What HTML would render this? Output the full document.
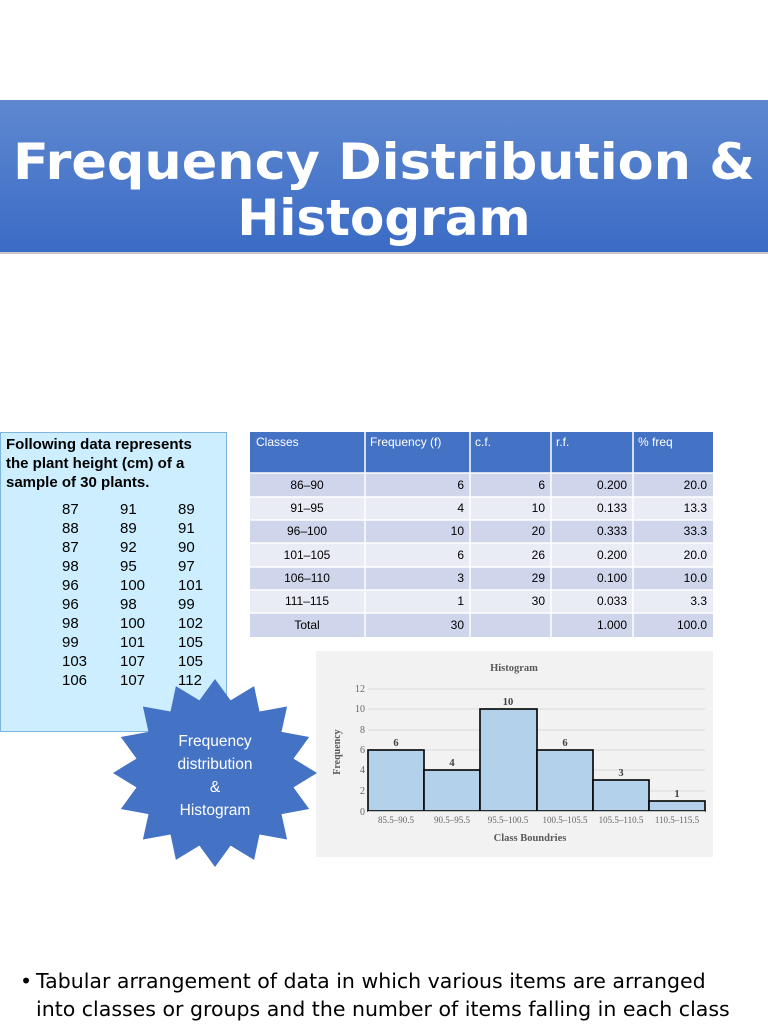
<!DOCTYPE html>
<html><head><meta charset="utf-8"><style>
html,body{margin:0;padding:0;background:#fff;width:768px;height:1024px;overflow:hidden}
svg{display:block}
.s{font-family:"Liberation Sans","DejaVu Sans",sans-serif}
.c{font-family:"DejaVu Sans","Liberation Sans",sans-serif}
.r{font-family:"Liberation Serif",serif}
</style></head><body>
<svg width="768" height="1024" viewBox="0 0 768 1024" xmlns="http://www.w3.org/2000/svg">
<defs><linearGradient id="g" x1="0" y1="0" x2="0" y2="1"><stop offset="0" stop-color="#5f88d0"/><stop offset="1" stop-color="#3a6bc5"/></linearGradient></defs>
<rect x="0" y="100" width="768" height="152" fill="url(#g)"/>
<rect x="0" y="252" width="768" height="2" fill="#c8c8c8"/>
<g class="c" fill="#fff" font-weight="bold" font-size="50" text-anchor="middle">
<text x="384" y="179" textLength="742" lengthAdjust="spacingAndGlyphs">Frequency Distribution &amp;</text>
<text x="384" y="235">Histogram</text></g>

<rect x="0.5" y="432.5" width="226" height="299" fill="#cceeff" stroke="#7fb3e0"/>
<g class="s" font-size="15" font-weight="bold" fill="#000">
<text x="6" y="449">Following data represents</text>
<text x="6" y="468">the plant height (cm) of a</text>
<text x="6" y="487">sample of 30 plants.</text></g>
<g class="s" font-size="15" fill="#000">
<text x="62" y="514">87</text><text x="120" y="514">91</text><text x="178" y="514">89</text>
<text x="62" y="533">88</text><text x="120" y="533">89</text><text x="178" y="533">91</text>
<text x="62" y="552">87</text><text x="120" y="552">92</text><text x="178" y="552">90</text>
<text x="62" y="571">98</text><text x="120" y="571">95</text><text x="178" y="571">97</text>
<text x="62" y="590">96</text><text x="120" y="590">100</text><text x="178" y="590">101</text>
<text x="62" y="609">96</text><text x="120" y="609">98</text><text x="178" y="609">99</text>
<text x="62" y="628">98</text><text x="120" y="628">100</text><text x="178" y="628">102</text>
<text x="62" y="647">99</text><text x="120" y="647">101</text><text x="178" y="647">105</text>
<text x="62" y="666">103</text><text x="120" y="666">107</text><text x="178" y="666">105</text>
<text x="62" y="685">106</text><text x="120" y="685">107</text><text x="178" y="685">112</text></g>

<rect x="250" y="432" width="463" height="41" fill="#4472c4"/>
<rect x="250" y="473" width="463" height="24" fill="#cfd5ea"/>
<rect x="250" y="497" width="463" height="23" fill="#e9ebf5"/>
<rect x="250" y="520" width="463" height="23" fill="#cfd5ea"/>
<rect x="250" y="543" width="463" height="24" fill="#e9ebf5"/>
<rect x="250" y="567" width="463" height="23" fill="#cfd5ea"/>
<rect x="250" y="590" width="463" height="23" fill="#e9ebf5"/>
<rect x="250" y="613" width="463" height="24" fill="#cfd5ea"/>
<g stroke="#fff" stroke-width="1.5">
<line x1="365" y1="432" x2="365" y2="637"/><line x1="470" y1="432" x2="470" y2="637"/>
<line x1="551" y1="432" x2="551" y2="637"/><line x1="633" y1="432" x2="633" y2="637"/>
<line x1="250" y1="473" x2="713" y2="473"/><line x1="250" y1="497" x2="713" y2="497"/>
<line x1="250" y1="520" x2="713" y2="520"/><line x1="250" y1="543" x2="713" y2="543"/>
<line x1="250" y1="567" x2="713" y2="567"/><line x1="250" y1="590" x2="713" y2="590"/>
<line x1="250" y1="613" x2="713" y2="613"/></g>
<g class="s" font-size="12" fill="#fff">
<text x="256" y="446">Classes</text><text x="370" y="446">Frequency (f)</text>
<text x="475" y="446">c.f.</text><text x="556" y="446">r.f.</text><text x="638" y="446">% freq</text></g>
<g class="s" font-size="12" fill="#000">
<g text-anchor="middle">
<text x="307" y="489">86–90</text><text x="307" y="512">91–95</text><text x="307" y="535">96–100</text>
<text x="307" y="559">101–105</text><text x="307" y="582">106–110</text><text x="307" y="605">111–115</text>
<text x="307" y="629">Total</text></g>
<g text-anchor="end">
<text x="464" y="489">6</text><text x="464" y="512">4</text><text x="464" y="535">10</text><text x="464" y="559">6</text><text x="464" y="582">3</text><text x="464" y="605">1</text><text x="464" y="629">30</text>
<text x="545" y="489">6</text><text x="545" y="512">10</text><text x="545" y="535">20</text><text x="545" y="559">26</text><text x="545" y="582">29</text><text x="545" y="605">30</text>
<text x="627" y="489">0.200</text><text x="627" y="512">0.133</text><text x="627" y="535">0.333</text><text x="627" y="559">0.200</text><text x="627" y="582">0.100</text><text x="627" y="605">0.033</text><text x="627" y="629">1.000</text>
<text x="707" y="489">20.0</text><text x="707" y="512">13.3</text><text x="707" y="535">33.3</text><text x="707" y="559">20.0</text><text x="707" y="582">10.0</text><text x="707" y="605">3.3</text><text x="707" y="629">100.0</text>
</g></g>

<rect x="316" y="651" width="397" height="206" fill="#f2f2f2"/>
<g stroke="#d9d9d9" stroke-width="1">
<line x1="368" y1="689" x2="705" y2="689"/><line x1="368" y1="709" x2="705" y2="709"/>
<line x1="368" y1="730" x2="705" y2="730"/><line x1="368" y1="750" x2="705" y2="750"/>
<line x1="368" y1="770" x2="705" y2="770"/><line x1="368" y1="791" x2="705" y2="791"/></g>
<g fill="#b4d1ec" stroke="#000" stroke-width="1.6">
<rect x="368" y="750" width="56" height="61"/><rect x="424" y="770" width="56" height="41"/>
<rect x="480" y="709" width="57" height="102"/><rect x="537" y="750" width="56" height="61"/>
<rect x="593" y="780" width="56" height="31"/><rect x="649" y="801" width="56" height="10"/></g>
<line x1="368" y1="811.5" x2="705" y2="811.5" stroke="#bfbfbf"/>
<g class="r" font-size="10" fill="#666" text-anchor="end">
<text x="365" y="692">12</text><text x="365" y="712">10</text><text x="365" y="733">8</text>
<text x="365" y="753">6</text><text x="365" y="773">4</text><text x="365" y="794">2</text><text x="365" y="815">0</text></g>
<g class="r" font-size="9" fill="#666" text-anchor="middle">
<text x="396" y="823">85.5–90.5</text><text x="452" y="823">90.5–95.5</text><text x="508" y="823">95.5–100.5</text>
<text x="565" y="823">100.5–105.5</text><text x="621" y="823">105.5–110.5</text><text x="677" y="823">110.5–115.5</text></g>
<g class="r" font-size="10.5" font-weight="bold" fill="#404040" text-anchor="middle">
<text x="396" y="746">6</text><text x="452" y="766">4</text><text x="508" y="705">10</text>
<text x="565" y="746">6</text><text x="621" y="776">3</text><text x="677" y="797">1</text></g>
<g class="r" font-weight="bold" fill="#595959" text-anchor="middle">
<text x="514" y="671" font-size="10.5">Histogram</text>
<text x="530" y="841" font-size="10.5">Class Boundries</text>
<text transform="translate(340,752) rotate(-90)" font-size="10">Frequency</text></g>

<polygon fill="#4472c4" points="215,679 230.6,700.4 254.1,686.1 259.5,711.5 287.1,706.5 281.5,731.9 309.2,737 293.5,758.6 317,773 293.5,787.4 309.2,809 281.5,814.1 287.1,839.5 259.5,834.5 254.1,859.9 230.6,845.6 215,867 199.4,845.6 175.9,859.9 170.5,834.5 142.9,839.5 148.5,814.1 120.8,809 136.5,787.4 113,773 136.5,758.6 120.8,737 148.5,731.9 142.9,706.5 170.5,711.5 175.9,686.1 199.4,700.4"/>
<g class="s" font-size="15.5" fill="#fff" text-anchor="middle">
<text x="215" y="746">Frequency</text><text x="215" y="769">distribution</text>
<text x="215" y="792">&amp;</text><text x="215" y="815">Histogram</text></g>

<g class="c" font-size="20.5" fill="#000">
<text x="20" y="988">•</text>
<text x="36" y="988">Tabular arrangement of data in which various items are arranged</text>
<text x="36" y="1016">into classes or groups and the number of items falling in each class</text></g>
</svg>
</body></html>
